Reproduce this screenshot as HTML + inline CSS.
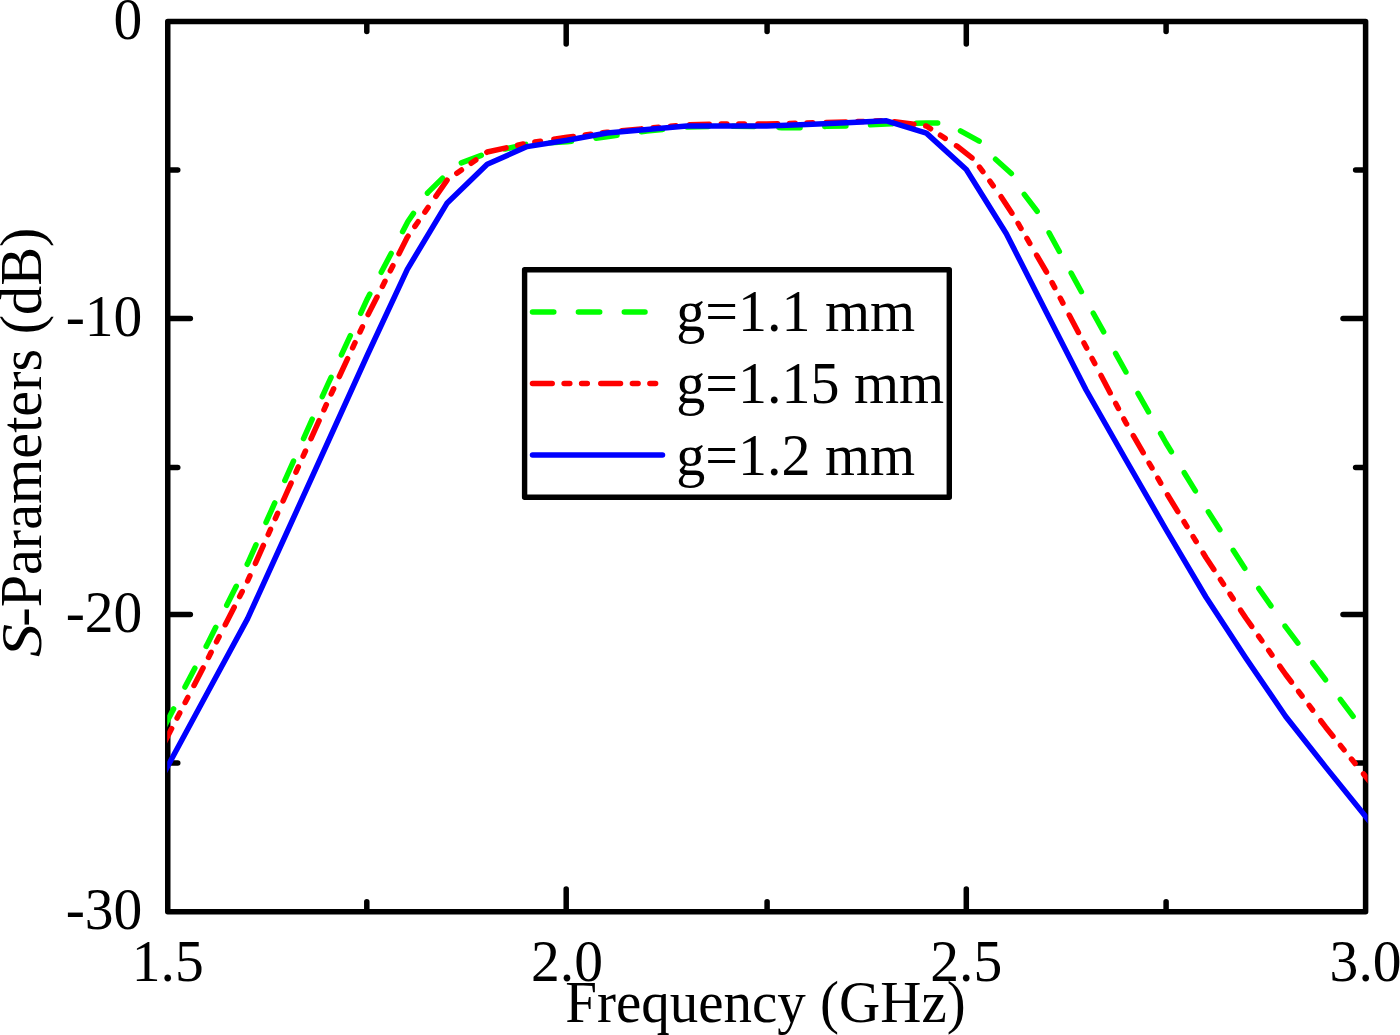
<!DOCTYPE html>
<html lang="en">
<head>
<meta charset="utf-8">
<title>S-Parameters vs Frequency</title>
<style>
html,body{margin:0;padding:0;background:#fff;}
body{width:1400px;height:1035px;overflow:hidden;}
svg{display:block;}
svg text{font-family:"Liberation Serif", serif;font-size:57px;fill:#000;}
</style>
</head>
<body>
<svg width="1400" height="1035" viewBox="0 0 1400 1035">
<rect x="0" y="0" width="1400" height="1035" fill="#ffffff"/>
<defs><clipPath id="plotclip"><rect x="167.2" y="18" width="1200.4" height="896.6"/></clipPath></defs>
<g fill="none" stroke="#000" stroke-width="5.5" stroke-linecap="round" stroke-linejoin="round">
<rect x="167.75" y="21.45" width="1197.85" height="890.25"/>
<line x1="366.80" y1="910.70" x2="366.80" y2="901.70"/><line x1="366.80" y1="22.45" x2="366.80" y2="31.45"/>
<line x1="566.20" y1="910.70" x2="566.20" y2="889.10"/><line x1="566.20" y1="22.45" x2="566.20" y2="44.05"/>
<line x1="767.10" y1="910.70" x2="767.10" y2="901.70"/><line x1="767.10" y1="22.45" x2="767.10" y2="31.45"/>
<line x1="966.30" y1="910.70" x2="966.30" y2="889.10"/><line x1="966.30" y1="22.45" x2="966.30" y2="44.05"/>
<line x1="1166.10" y1="910.70" x2="1166.10" y2="901.70"/><line x1="1166.10" y1="22.45" x2="1166.10" y2="31.45"/>
<line x1="168.75" y1="169.90" x2="177.75" y2="169.90"/><line x1="1364.60" y1="169.90" x2="1355.60" y2="169.90"/>
<line x1="168.75" y1="318.50" x2="190.35" y2="318.50"/><line x1="1364.60" y1="318.50" x2="1343.00" y2="318.50"/>
<line x1="168.75" y1="467.40" x2="177.75" y2="467.40"/><line x1="1364.60" y1="467.40" x2="1355.60" y2="467.40"/>
<line x1="168.75" y1="614.40" x2="190.35" y2="614.40"/><line x1="1364.60" y1="614.40" x2="1343.00" y2="614.40"/>
<line x1="168.75" y1="763.00" x2="177.75" y2="763.00"/><line x1="1364.60" y1="763.00" x2="1355.60" y2="763.00"/>
</g>
<g clip-path="url(#plotclip)" fill="none" stroke-width="5.5" stroke-linejoin="round" stroke-linecap="round">
<polyline stroke="#00ff00" stroke-dasharray="21.3 24.6" stroke-dashoffset="41.7" points="161.8,731.5 167.8,720.0 207.7,643.5 247.6,563.5 287.5,474.5 327.5,385.0 367.4,298.7 407.9,221.5 427.8,192.6 445.9,174.8 456.1,164.8 487.2,153.1 527.1,144.0 567.0,141.7 607.0,136.8 646.9,131.0 686.8,127.0 726.8,126.2 766.7,126.5 782.0,127.7 806.6,127.7 826.4,126.3 851.4,125.9 886.5,124.0 926.4,123.0 944.0,123.0 959.5,130.3 980.5,141.8 991.5,155.6 1013.0,175.0 1024.0,194.0 1037.7,212.0 1054.8,243.2 1086.1,300.3 1126.1,372.3 1166.0,443.0 1205.9,508.0 1245.9,570.0 1285.8,627.2 1325.7,680.0 1362.5,728.9"/>
<polyline stroke="#ff0000" stroke-dasharray="19.7 11.9 5.7 11.8 5.7 13.5" stroke-dashoffset="66.6" points="161.8,747.6 167.8,736.0 207.7,659.0 247.6,581.0 287.5,491.0 327.5,402.0 367.4,316.0 407.3,237.3 447.2,180.0 487.2,152.0 527.1,143.2 567.0,137.2 607.0,132.3 646.9,128.3 686.8,124.8 726.7,124.0 766.7,124.0 806.6,123.0 846.5,122.0 886.5,120.6 926.4,126.0 957.1,146.2 974.0,159.5 1000.0,195.0 1014.0,216.3 1046.2,271.5 1086.1,347.0 1126.0,423.0 1166.0,492.3 1205.9,557.5 1245.8,618.0 1285.7,674.5 1325.7,727.2 1365.6,776.5 1371.6,783.9"/>
<polyline stroke="#0000ff" points="161.8,777.1 167.8,766.0 207.7,692.3 247.6,618.6 287.5,531.0 327.5,443.0 367.4,355.0 407.3,269.3 447.2,202.9 487.2,164.3 527.1,146.6 567.0,140.3 607.0,133.0 646.9,129.5 686.8,126.0 726.7,126.0 766.7,126.0 806.6,124.4 846.5,122.8 886.5,120.8 926.4,133.1 966.3,169.5 1006.2,233.5 1046.2,312.0 1086.1,390.0 1126.0,460.0 1166.0,529.5 1205.9,597.0 1245.8,658.0 1285.7,716.5 1325.7,767.1 1365.6,816.4 1371.6,823.8"/>
</g>
<rect x="524.6" y="269.7" width="424.7" height="227.5" fill="#fff" stroke="#000" stroke-width="5.4" stroke-linejoin="round"/>
<g fill="none" stroke-width="5.5" stroke-linecap="round">
<line x1="532.5" y1="311.9" x2="645" y2="311.9" stroke="#00ff00" stroke-dasharray="21.3 24.6"/>
<line x1="532.5" y1="383.5" x2="655.7" y2="383.5" stroke="#ff0000" stroke-dasharray="19.7 11.9 5.7 11.8 5.7 13.5"/>
<line x1="532.5" y1="455" x2="662.5" y2="455" stroke="#0000ff"/>
</g>
<text transform="translate(676.2,331.0) scale(1,1.020)" style="font-size:58px">g=1.1 mm</text>
<text transform="translate(676.2,402.7) scale(1,1.020)" style="font-size:58px">g=1.15 mm</text>
<text transform="translate(676.2,474.7) scale(1,1.020)" style="font-size:58px">g=1.2 mm</text>
<text transform="translate(142.4,38.8) scale(1,1.015)" text-anchor="end" style="font-size:57.6px">0</text>
<text transform="translate(142.4,335.9) scale(1,1.015)" text-anchor="end" style="font-size:57.6px">-10</text>
<text transform="translate(142.4,631.8) scale(1,1.015)" text-anchor="end" style="font-size:57.6px">-20</text>
<text transform="translate(142.4,929.1) scale(1,1.015)" text-anchor="end" style="font-size:57.6px">-30</text>
<text transform="translate(167.8,980.7) scale(1,1.015)" text-anchor="middle" style="font-size:57.6px">1.5</text>
<text transform="translate(567.0,980.7) scale(1,1.015)" text-anchor="middle" style="font-size:57.6px">2.0</text>
<text transform="translate(966.3,980.7) scale(1,1.015)" text-anchor="middle" style="font-size:57.6px">2.5</text>
<text transform="translate(1365.6,980.7) scale(1,1.015)" text-anchor="middle" style="font-size:57.6px">3.0</text>
<text transform="translate(765.5,1022.3) scale(1,1.020)" text-anchor="middle">Frequency (GHz)</text>
<text transform="translate(40.6,657) rotate(-90) scale(1.14,1)" style="font-size:58px;font-style:italic">S</text>
<text transform="translate(40.6,626.7) rotate(-90) scale(1,1.000)" style="font-size:58.2px">-Parameters (dB)</text>
</svg>
</body>
</html>
